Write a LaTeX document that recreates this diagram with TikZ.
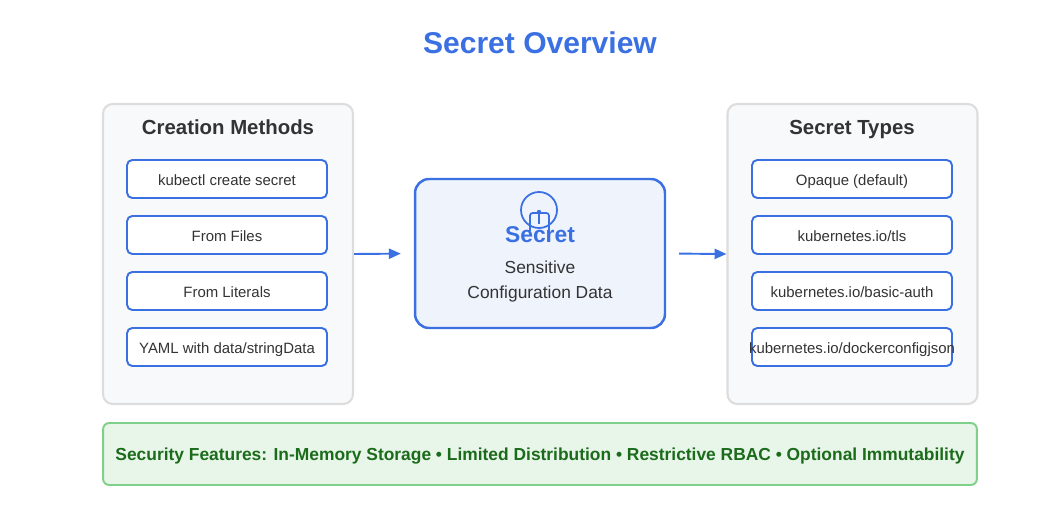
\documentclass[tikz,border=0pt]{standalone}
\usepackage{fontspec}
\setmainfont{Liberation Sans}
\usepackage{xcolor}
\usetikzlibrary{arrows.meta}
\definecolor{mainblue}{HTML}{3A70E2}
\definecolor{panelgray}{HTML}{DDDDDD}
\definecolor{panelfill}{HTML}{F8F9FA}
\definecolor{corefill}{HTML}{EEF3FC}
\definecolor{textdark}{HTML}{333333}
\definecolor{featfill}{HTML}{E8F5E9}
\definecolor{featline}{HTML}{7FD08A}
\definecolor{feattext}{HTML}{1B6B1B}

\begin{document}
\begin{tikzpicture}[x=0.02cm,y=-0.02cm,
        panel/.style={draw=panelgray, fill=panelfill, line width=1.2pt, rounded corners=5.5pt, minimum width=5cm, minimum height=6cm},
        itembox/.style={draw=mainblue, fill=white, line width=1.1pt, rounded corners=3pt, minimum width=4cm, minimum height=0.76cm, inner sep=0pt, text height=7.2pt, text depth=0pt, font=\fontsize{8.5}{10}\selectfont, text=textdark},
        heading/.style={font=\fontsize{11.6}{13}\selectfont\bfseries, text height=7.6pt, text depth=0pt, text=textdark},
        flow/.style={-{Triangle[length=6.8pt,width=5.8pt]}, draw=mainblue, line width=1.1pt}
        ]
            \useasboundingbox (0,0) rectangle (1057,527);

            \node[font=\fontsize{17.1}{20}\selectfont\bfseries, text=mainblue] (title) at (540,43) {Secret Overview};

            % left panel
            \node[panel] (methods) at (228,254) {};
            \node[heading] (methodshead) at (228,128) {Creation Methods};
            \node[itembox] (m1) at (227,179) {kubectl create secret};
            \node[itembox] (m2) at (227,235) {From Files};
            \node[itembox] (m3) at (227,291) {From Literals};
            \node[itembox] (m4) at (227,347) {YAML with data/stringData};

            % right panel
            \node[panel] (types) at (852.5,254) {};
            \node[heading] (typeshead) at (852,128) {Secret Types};
            \node[itembox] (t1) at (852,179) {Opaque (default)};
            \node[itembox] (t2) at (852,235) {kubernetes.io/tls};
            \node[itembox] (t3) at (852,291) {kubernetes.io/basic-auth};
            \node[itembox] (t4) at (852,347) {\makebox[0pt]{kubernetes.io/dockerconfigjson}};

            % centre
            \node[draw=mainblue, fill=corefill, line width=1.4pt, rounded corners=8pt, minimum width=5cm, minimum height=2.98cm] (secret) at (540,253.5) {};
            \node[circle, draw=mainblue, line width=1pt, minimum size=0.72cm, inner sep=0pt] (icon) at (539,210) {};
            \draw[mainblue, line width=1pt, rounded corners=1.5pt] (530,231) -- (530,213) -- (549,213) -- (549,231);
            \fill[mainblue] (539,212) circle (2.2);
            \draw[mainblue, line width=1pt] (539,212) -- (539,224);
            \node[font=\fontsize{13}{15}\selectfont\bfseries, text=mainblue] (secretname) at (540,235) {Secret};
            \node[font=\fontsize{9.9}{14.2}\selectfont, text=textdark, align=center] (secretdesc) at (540,281.5) {Sensitive\\Configuration Data};

            \draw[flow, shorten >=7.4pt] (methods.east) -- (secret.west);
            \draw[flow, shorten <=7.4pt] (secret.east) -- (types.west);

            % features
            \node[draw=featline, fill=featfill, line width=1.1pt, rounded corners=3.5pt, minimum width=17.48cm, minimum height=1.24cm, text height=7.2pt, text depth=0pt, font=\fontsize{9.9}{12}\selectfont\bfseries, text=feattext] (features) at (540,454) {Security Features: In-Memory Storage • Limited Distribution • Restrictive RBAC • Optional Immutability};

        \end{tikzpicture}
\end{document}
